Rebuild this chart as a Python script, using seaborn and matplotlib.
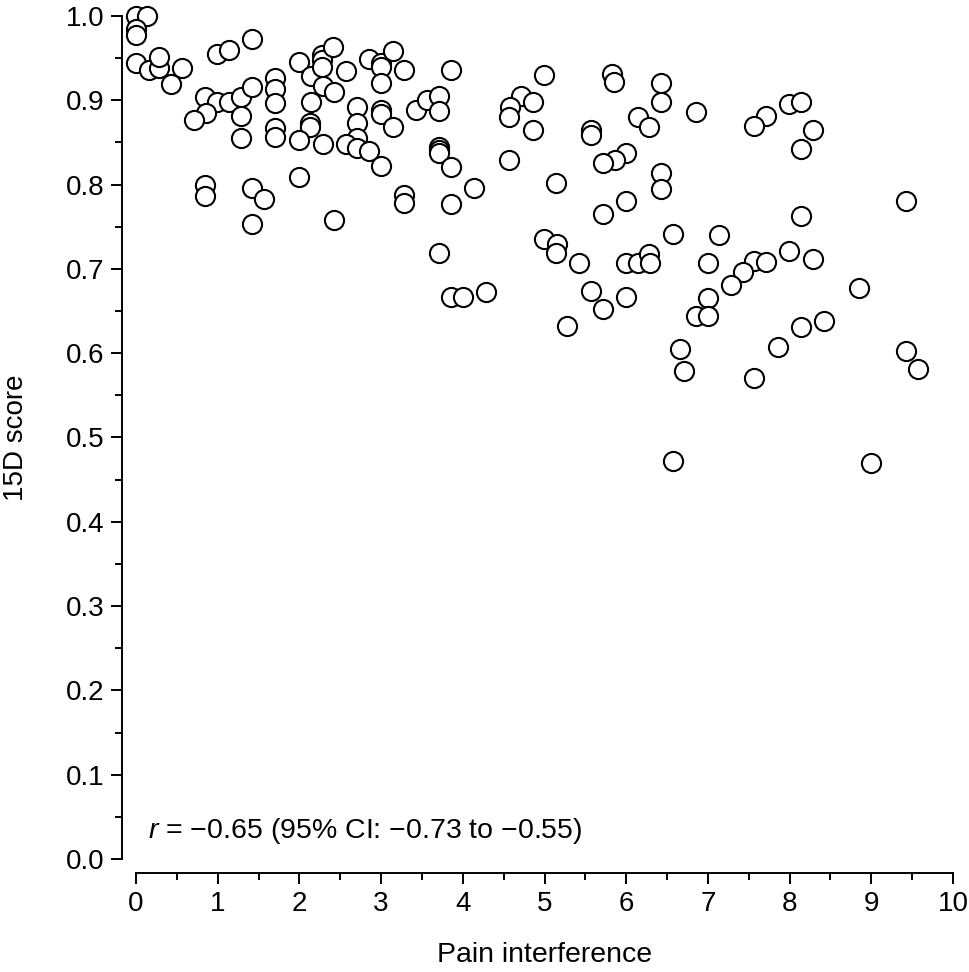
import seaborn as sns
import pandas as pd
from matplotlib import pyplot as plt
from matplotlib.ticker import MultipleLocator

pain = [0.00, 0.13, 0.00, 0.00, 0.00, 0.16, 0.28, 0.28, 0.56, 0.43,
        0.99, 1.14, 1.42, 0.84, 0.99, 1.14, 1.28, 1.42, 0.86, 0.71,
        1.28, 1.28, 1.70, 1.70, 1.70, 1.70, 1.70, 2.00, 2.14, 2.14,
        2.13, 2.13, 2.00, 2.29, 2.28, 2.28, 2.28, 2.41, 2.29, 2.42,
        2.57, 2.71, 2.71, 2.71, 2.57, 2.70, 2.85, 3.00, 2.85, 3.00,
        3.00, 3.14, 3.28, 3.00, 3.00, 3.00, 3.14, 3.43, 3.56, 3.71,
        3.71, 3.71, 3.71, 3.71, 3.85, 3.85, 3.85, 0.84, 0.84, 1.42,
        1.57, 1.42, 2.00, 2.42, 3.28, 3.28, 4.99, 5.83, 5.85, 6.43,
        6.43, 6.85, 4.71, 4.58, 4.86, 4.57, 4.86, 6.14, 6.28, 5.57,
        5.57, 4.57, 6.00, 5.86, 5.72, 6.43, 6.43, 5.14, 4.14, 6.00,
        5.72, 6.57, 3.71, 4.99, 5.15, 5.14, 5.42, 6.00, 6.14, 6.28,
        6.29, 3.85, 4.00, 4.28, 5.57, 6.00, 5.72, 5.28, 6.66, 7.99,
        8.14, 7.71, 7.56, 8.29, 8.14, 9.42, 8.14, 7.14, 7.00, 7.56,
        7.71, 7.43, 7.28, 7.99, 8.29, 8.85, 7.00, 6.85, 7.00, 8.14,
        8.42, 7.86, 6.71, 7.56, 9.42, 9.57, 6.57, 9.00]

score = [1.000, 1.000, 0.985, 0.978, 0.944, 0.936, 0.938, 0.951, 0.938, 0.919,
         0.955, 0.960, 0.973, 0.904, 0.898, 0.898, 0.904, 0.916, 0.885, 0.877,
         0.881, 0.855, 0.926, 0.914, 0.897, 0.867, 0.856, 0.946, 0.929, 0.898,
         0.873, 0.868, 0.853, 0.848, 0.954, 0.948, 0.940, 0.963, 0.917, 0.910,
         0.935, 0.892, 0.873, 0.855, 0.848, 0.843, 0.840, 0.822, 0.949, 0.944,
         0.940, 0.959, 0.936, 0.921, 0.889, 0.884, 0.868, 0.889, 0.900, 0.905,
         0.887, 0.845, 0.841, 0.837, 0.821, 0.936, 0.777, 0.800, 0.786, 0.796,
         0.783, 0.753, 0.809, 0.758, 0.788, 0.778, 0.930, 0.931, 0.922, 0.921,
         0.898, 0.886, 0.905, 0.892, 0.898, 0.880, 0.865, 0.880, 0.868, 0.865,
         0.859, 0.829, 0.837, 0.829, 0.826, 0.814, 0.795, 0.802, 0.796, 0.781,
         0.765, 0.741, 0.719, 0.736, 0.730, 0.719, 0.707, 0.707, 0.707, 0.718,
         0.707, 0.667, 0.667, 0.673, 0.674, 0.667, 0.652, 0.632, 0.605, 0.896,
         0.898, 0.881, 0.870, 0.865, 0.842, 0.781, 0.763, 0.740, 0.707, 0.709,
         0.708, 0.696, 0.681, 0.721, 0.712, 0.677, 0.665, 0.644, 0.644, 0.631,
         0.638, 0.607, 0.579, 0.571, 0.603, 0.581, 0.472, 0.470]

x_ticks = list(range(0, 11))
y_ticks = [0.0, 0.1, 0.2, 0.3, 0.4, 0.5, 0.6, 0.7, 0.8, 0.9, 1.0]
note = "$\\it{r}$ = \u22120.65 (95% CI: \u22120.73 to \u22120.55)"

df = pd.DataFrame({"pain": pain, "score": score})

sns.set_theme(style="ticks", rc={"text.color": "black", "axes.labelcolor": "black",
                                 "xtick.color": "black", "ytick.color": "black",
                                 "axes.edgecolor": "black"})
plt.rcParams['font.family'] = ['Liberation Sans', 'DejaVu Sans']
plt.rcParams['mathtext.fontset'] = 'custom'
plt.rcParams['mathtext.it'] = 'Liberation Sans:italic'
plt.rcParams['mathtext.rm'] = 'Liberation Sans'

fig = plt.figure(figsize=(9.7, 9.72), dpi=100)
ax = fig.add_axes([0.1402, 0.1163, 0.8423, 0.8672])

sns.scatterplot(data=df, x="pain", y="score", ax=ax,
                s=190, facecolor="white", edgecolor="black",
                linewidth=1.5, clip_on=False, zorder=3)

ax.set_xlim(0, 10)
ax.set_ylim(0, 1)
ax.set_xticks(x_ticks)
ax.set_yticks(y_ticks)
ax.set_yticklabels([f"{v:.1f}" for v in y_ticks])
ax.xaxis.set_minor_locator(MultipleLocator(0.5))
ax.yaxis.set_minor_locator(MultipleLocator(0.05))
ax.tick_params(which="major", length=8, width=1.4, labelsize=20, pad=5)
ax.tick_params(which="minor", length=5, width=1.4)
for sp in ["left", "bottom"]:
    ax.spines[sp].set_linewidth(1.4)
sns.despine(ax=ax, offset=10)

ax.set_xlabel("Pain interference", fontsize=20.5, labelpad=18)
ax.set_ylabel("15D score", fontsize=20, labelpad=26)

ax.text(0.15, 0.033, note, fontsize=20.5, va="center", ha="left")

fig.savefig("out.png", dpi=100)
